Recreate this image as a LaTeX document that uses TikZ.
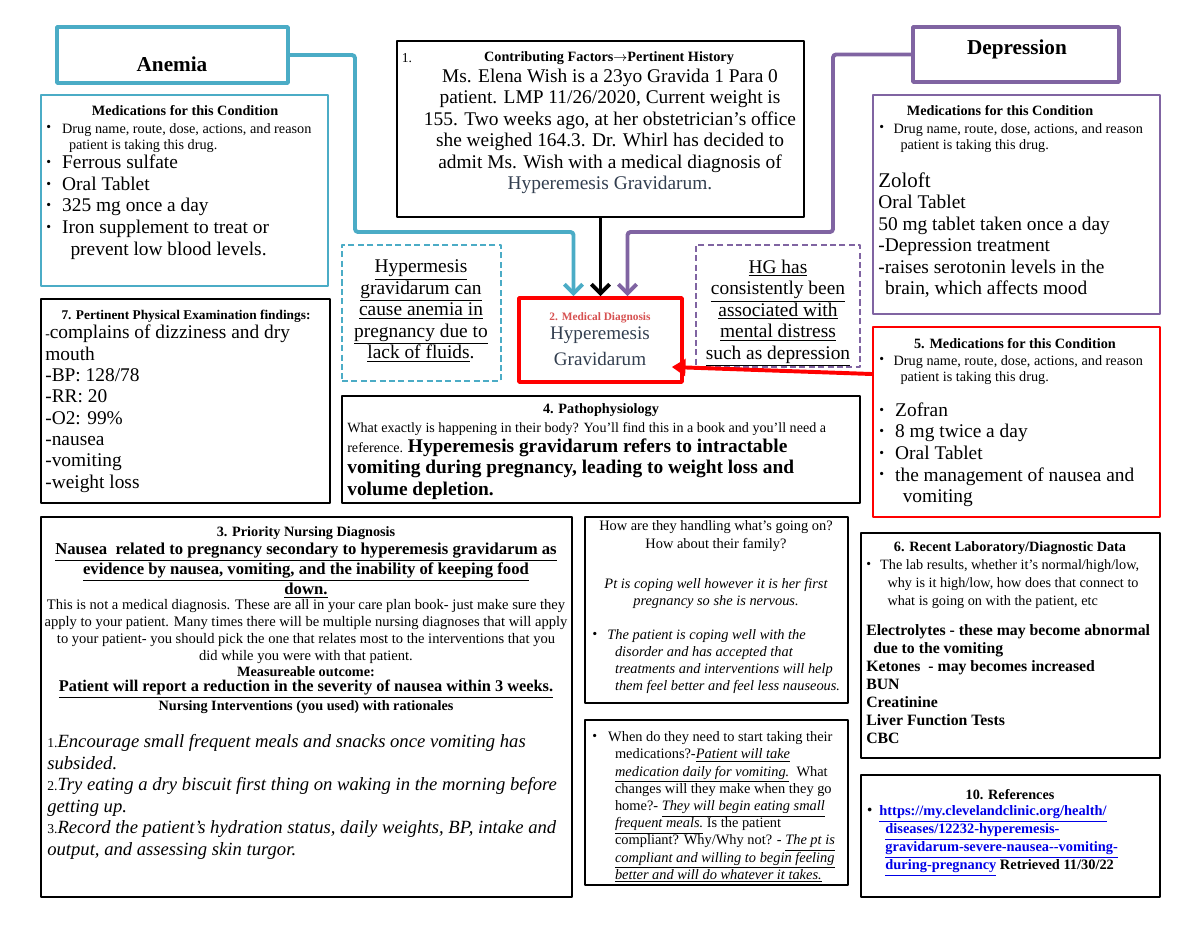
\documentclass[tikz,border=0pt]{standalone}
\usepackage{fontspec}
\setmainfont{Liberation Serif}
\usetikzlibrary{arrows.meta,fit}
\definecolor{anemiateal}{RGB}{75,172,198}
\definecolor{moodviolet}{RGB}{128,100,162}
\definecolor{dxred}{RGB}{255,0,0}
\definecolor{dxtitle}{RGB}{214,80,80}
\definecolor{hgslate}{RGB}{50,62,79}
\definecolor{refblue}{RGB}{0,0,230}
\newcommand\setsize[2]{\fontsize{#1}{#2}\selectfont}
\newcommand\bul[1]{\makebox[#1][l]{\raisebox{.25ex}{\setsize{9}{9}\textbullet}}}

\begin{document}
\begin{tikzpicture}[x=0.66pt, y=-0.66pt, line join=round, line cap=round,
    panel/.style={draw, inner sep=0pt, line width=1.3pt},
    tealpanel/.style={panel, draw=anemiateal},
    violetpanel/.style={panel, draw=moodviolet},
    redpanel/.style={panel, draw=dxred},
    dashedpanel/.style={panel, line width=1pt, line cap=butt, dash pattern=on 4pt off 2.2pt},
    heading/.style={inner sep=0pt, font=\setsize{9.4}{10.5}\bfseries},
    smalltext/.style={inner sep=0pt, align=left, font=\setsize{9.4}{10.6}},
    bodytext/.style={inner sep=0pt, align=left, font=\setsize{12.8}{14.2}},
    feed/.style={line width=2.6pt, rounded corners=2pt, -{Straight Barb[length=6pt,width=12pt]}}]
    \useasboundingbox (0,0) rectangle (1200,927);

    \node[tealpanel, line width=2.4pt, fit={(57,27) (288,83)}] (anemia) {};
    \node[font=\setsize{14}{16}\bfseries] (anemiaLabel) at (172,64) {Anemia};
    \node[violetpanel, line width=2.4pt, fit={(913,27) (1119,82)}] (depression) {};
    \node[font=\setsize{14}{16}\bfseries] (depressionLabel) at (1017,49) {Depression};

    \node[panel, line width=1.5pt, fit={(397,41) (804,217)}] (history) {};
    \node[inner sep=0pt, font=\setsize{9}{10}] (historyNum) at (407,58) {1.};
    \node[heading] (historyTitle) at (609,58) {Contributing Factors$\rightarrow$Pertinent History};
    \node[bodytext, align=center, anchor=north] (historyText) at (610,68.5) {Ms. Elena Wish is a 23yo Gravida 1 Para 0\\
        patient. LMP 11/26/2020, Current weight is\\
        155. Two weeks ago, at her obstetrician’s office\\
        she weighed 164.3. Dr. Whirl has decided to\\
        admit Ms. Wish with a medical diagnosis of\\
        {\color{hgslate}Hyperemesis Gravidarum.}};

    \node[tealpanel, fit={(41,95) (328,286)}] (anemiaMeds) {};
    \node[heading] (anemiaMedsTitle) at (185,111) {Medications for this Condition};
    \node[smalltext, anchor=north west] (anemiaMedsNote) at (46,123) {\bul{10.5pt}Drug name, route, dose, actions, and reason\\
        \hspace*{15pt}patient is taking this drug.};
    \node[bodytext, anchor=north west] (anemiaMedsList) at (46,155) {\bul{10.5pt}Ferrous sulfate\\
        \bul{10.5pt}Oral Tablet\\
        \bul{10.5pt}325 mg once a day\\
        \bul{10.5pt}Iron supplement to treat or\\
        \hspace*{16pt}prevent low blood levels.};

    \node[panel, fit={(41,299) (330,503)}] (exam) {};
    \node[heading, font=\setsize{8.8}{10}\bfseries] (examTitle) at (186,316) {7. Pertinent Physical Examination findings:};
    \node[bodytext, anchor=north west, font=\setsize{12.8}{14.06}] (examText) at (45,325) {{\setsize{9}{10}-}complains of dizziness and dry\\
        mouth\\-BP: 128/78\\-RR: 20\\-O2: 99\%\\-nausea\\-vomiting\\-weight loss};

    \node[dashedpanel, draw=anemiateal, fit={(342,245) (501,381)}] (anemiaLink) {};
    \node[bodytext, align=center, anchor=north] (anemiaLinkText) at (421,259.5) {\underline{Hypermesis}\\
        \underline{gravidarum can}\\\underline{cause anemia in}\\\underline{pregnancy due to}\\\underline{lack of fluids}.};

    \node[redpanel, line width=2.4pt, fit={(519,298) (682,382)}] (diagnosis) {};
    \node[heading, font=\setsize{7.5}{9}\bfseries, text=dxtitle] (diagnosisTitle) at (600,318) {2. Medical Diagnosis};
    \node[bodytext, align=center, anchor=north, font=\setsize{12.6}{17.2}, text=hgslate] (diagnosisText) at (600,326.5) {Hyperemesis\\Gravidarum};

    \node[dashedpanel, draw=moodviolet, fit={(696,245) (860,367)}] (depressionLink) {};
    \node[bodytext, align=center, anchor=north] (depressionLinkText) at (778,259.5) {\underline{HG has}\\
        \underline{consistently been}\\\underline{associated with}\\\underline{mental distress}\\\underline{such as depression}};

    \node[violetpanel, fit={(873,95) (1160,314)}] (depressionMeds) {};
    \node[heading] (depressionMedsTitle) at (1000,111) {Medications for this Condition};
    \node[smalltext, anchor=north west] (depressionMedsNote) at (879,123) {\bul{9.5pt}Drug name, route, dose, actions, and reason\\
        \hspace*{14pt}patient is taking this drug.};
    \node[bodytext, anchor=north west] (depressionMedsText) at (878,172) {{\setsize{13.8}{16}Zoloft}\\
        Oral Tablet\\50 mg tablet taken once a day\\-Depression treatment\\
        -raises serotonin levels in the\\\hspace*{4.5pt}brain, which affects mood};

    \node[redpanel, fit={(873,327) (1160,517)}] (nauseaMeds) {};
    \node[heading] (nauseaMedsTitle) at (1015,344) {5. Medications for this Condition};
    \node[smalltext, anchor=north west] (nauseaMedsNote) at (879,355) {\bul{9.5pt}Drug name, route, dose, actions, and reason\\
        \hspace*{14pt}patient is taking this drug.};
    \node[bodytext, anchor=north west] (nauseaMedsList) at (879,402.5) {\bul{10.5pt}Zofran\\
        \bul{10.5pt}8 mg twice a day\\
        \bul{10.5pt}Oral Tablet\\
        \bul{10.5pt}the management of nausea and\\
        \hspace*{15.5pt}vomiting};

    \node[panel, fit={(342,396) (860,503)}] (patho) {};
    \node[heading] (pathoTitle) at (601,410) {4. Pathophysiology};
    \node[smalltext, anchor=north west, font=\setsize{9.3}{10.4}] (pathoNote) at (347,422) {What exactly is happening in their body? You’ll find this in a book and you’ll need a};
    \node[bodytext, anchor=north west, font=\setsize{12.8}{14.2}\bfseries] (pathoText) at (347,438.5) {{\setsize{9.3}{10}\mdseries reference. }Hyperemesis gravidarum refers to intractable\\
        vomiting during pregnancy, leading to weight loss and\\
        volume depletion.};

    \node[panel, fit={(41,517) (572,897)}] (nursing) {};
    \node[heading] (nursingTitle) at (306,533) {3. Priority Nursing Diagnosis};
    \node[inner sep=0pt, align=center, anchor=north, font=\setsize{11}{11.5}\bfseries] (nursingDx) at (306,543) {\underline{Nausea\ \ related to pregnancy secondary to hyperemesis gravidarum as}\\
        \underline{evidence by nausea, vomiting, and the inability of keeping food}\\
        \underline{down.}};
    \node[smalltext, align=center, anchor=north, font=\setsize{9.6}{11.2}] (nursingNote) at (306,599) {This is not a medical diagnosis. These are all in your care plan book- just make sure they\\
        apply to your patient. Many times there will be multiple nursing diagnoses that will apply\\
        to your patient- you should pick the one that relates most to the interventions that you\\
        did while you were with that patient.};
    \node[heading] (outcomeTitle) at (306,672) {Measureable outcome:};
    \node[inner sep=0pt, font=\setsize{10.8}{12}\bfseries] (outcome) at (306,689) {\underline{Patient will report a reduction in the severity of nausea within 3 weeks.}};
    \node[heading] (interventionsTitle) at (306,707) {Nursing Interventions (you used) with rationales};
    \node[bodytext, anchor=north west, font=\setsize{12.3}{14.2}\itshape] (interventions) at (47,734.5) {{\upshape\setsize{9}{10}1.}Encourage small frequent meals and snacks once vomiting has\\
        subsided.\\
        {\upshape\setsize{9}{10}2.}Try eating a dry biscuit first thing on waking in the morning before\\
        getting up.\\
        {\upshape\setsize{9}{10}3.}Record the patient’s hydration status, daily weights, BP, intake and\\
        output, and assessing skin turgor.};

    \node[panel, fit={(585,517) (848,703)}] (coping) {};
    \node[smalltext, align=center, anchor=north, font=\setsize{9.5}{11.9}] (copingAsk) at (716,520.5) {How are they handling what’s going on?\\How about their family?};
    \node[smalltext, align=center, anchor=north, font=\setsize{9.5}{11.2}\itshape] (copingAnswer) at (716,578.5) {Pt is coping well however it is her first\\pregnancy so she is nervous.};
    \node[smalltext, anchor=north west, font=\setsize{9.5}{11.2}\itshape] (copingNote) at (592,629.5) {\bul{10pt}The patient is coping well with the\\
        \hspace*{15pt}disorder and has accepted that\\
        \hspace*{15pt}treatments and interventions will help\\
        \hspace*{15pt}them feel better and feel less nauseous.};

    \node[panel, fit={(585,720) (848,885)}] (discharge) {};
    \node[smalltext, anchor=north west, font=\setsize{9.5}{11.35}] (dischargeText) at (592,731.5) {\bul{10.5pt}When do they need to start taking their\\
        \hspace*{15pt}medications?-\underline{\textit{Patient will take}}\\
        \hspace*{15pt}\underline{\textit{medication daily for vomiting.}}\ \ What\\
        \hspace*{15pt}changes will they make when they go\\
        \hspace*{15pt}home?- \underline{\textit{They will begin eating small}}\\
        \hspace*{15pt}\underline{\textit{frequent meals.}} Is the patient\\
        \hspace*{15pt}compliant? Why/Why not? - \underline{\textit{The pt is}}\\
        \hspace*{15pt}\underline{\textit{compliant and willing to begin feeling}}\\
        \hspace*{15pt}\underline{\textit{better and will do whatever it takes.}}};

    \node[panel, fit={(861,533) (1160,758)}] (labs) {};
    \node[heading] (labsTitle) at (1010,548) {6. Recent Laboratory/Diagnostic Data};
    \node[smalltext, anchor=north west, font=\setsize{9.4}{11.9}] (labsNote) at (866,559.5) {\bul{9.2pt}The lab results, whether it’s normal/high/low,\\
        \hspace*{14pt}why is it high/low, how does that connect to\\
        \hspace*{14pt}what is going on with the patient, etc};
    \node[smalltext, anchor=north west, font=\setsize{10.4}{11.9}\bfseries] (labsList) at (866,624) {Electrolytes - these may become abnormal\\
        \hspace*{4.6pt}due to the vomiting\\Ketones\ \ - may becomes increased\\BUN\\Creatinine\\Liver Function Tests\\CBC};

    \node[panel, fit={(861,775) (1160,897)}] (refs) {};
    \node[heading] (refsTitle) at (1010,795) {10. References};
    \node[smalltext, anchor=north west, font=\setsize{9.5}{11.9}\bfseries] (refsText) at (867,805.5) {\bul{8pt}\textcolor{refblue}{\underline{https://my.clevelandclinic.org/health/}}\\
        \hspace*{12pt}\textcolor{refblue}{\underline{diseases/12232-hyperemesis-}}\\
        \hspace*{12pt}\textcolor{refblue}{\underline{gravidarum-severe-nausea-{}-vomiting-}}\\
        \hspace*{12pt}\textcolor{refblue}{\underline{during-pregnancy}} Retrieved 11/30/22};

    \coordinate (tealBend) at (355,232);
    \coordinate (violetBend) at (833,232);
    \draw[feed, anemiateal] (anemia.east) -| (tealBend) -| ([shift={(-27,0)}]diagnosis.north);
    \draw[feed] (history) -- (diagnosis);
    \draw[feed, moodviolet] (depression.west) -| (violetBend) -| ([shift={(27,0)}]diagnosis.north);
    \draw[dxred, line width=2.6pt, -{Triangle[length=9pt,width=11pt]}] ([shift={(0,48)}]nauseaMeds.north west) -- ([shift={(-12,27)}]diagnosis.east);
\end{tikzpicture}
\end{document}
